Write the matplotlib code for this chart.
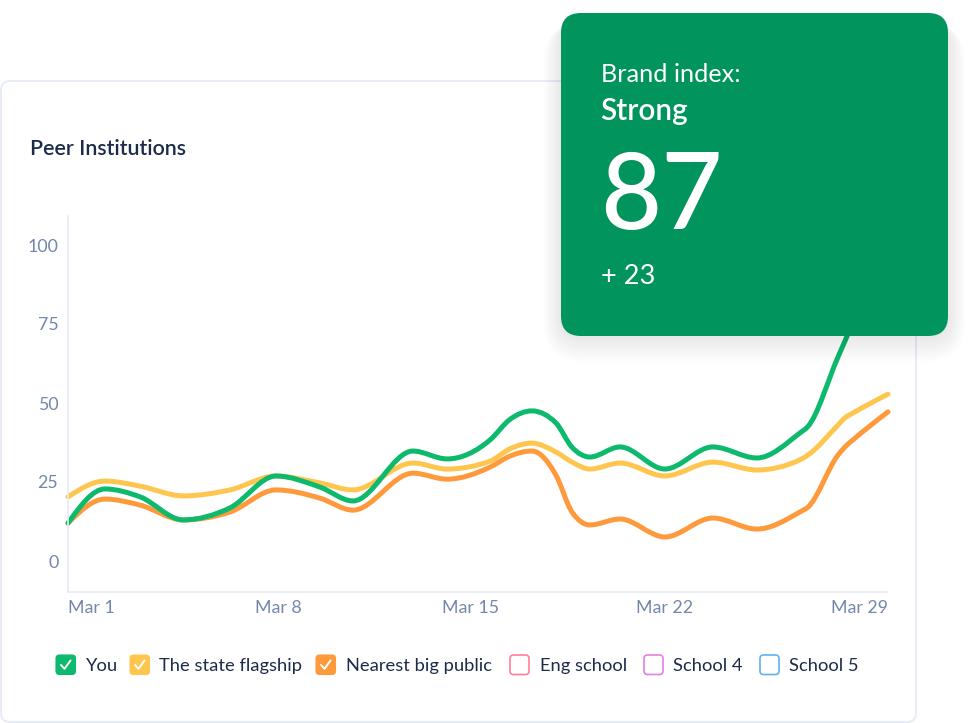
import numpy as np
from matplotlib import pyplot as plt
from matplotlib.patches import FancyBboxPatch, PathPatch
from matplotlib.path import Path

plt.rcParams['font.family'] = ['Lato', 'DejaVu Sans']

W, H = 968, 723

# data, x is in days since Mar 1
days = [0, 1.26, 2.46, 3.93, 5.53, 7.1, 8.6, 9.73, 11.78, 12.94, 14.41, 15.09,
        15.84, 16.66, 17.21, 17.82, 18.85, 20.38, 22.02, 23.52, 24.99, 25.26,
        26.29, 26.53, 26.8, 28]
you = [12, 22.8, 20.3, 13, 16.8, 26.9, 23.4, 19, 34.8, 32.3, 38.3, 44.8,
       47.5, 43.7, 36, 32.9, 36.1, 29.1, 36.1, 32.6, 40.5, 42.5,
       64.5, 69.6, 75.3, 87]
flagship = [20.3, 25.3, 23.7, 20.6, 22.5, 26.9, 24.7, 22.5, 31, 29.1, 31.6, 35.5,
            37.3, 34.5, 31.3, 29.1, 31, 26.9, 31.3, 28.8, 32, 33.5,
            43, 45.3, 46.8, 52.8]
nearest = [12, 19.6, 17.7, 13, 15.5, 22.5, 19.9, 16.1, 27.8, 25.9, 29.7, 33.2,
           34.8, 27.2, 15.5, 11.4, 13.3, 7.6, 13.6, 10.1, 15.5, 17,
           33.5, 36.1, 38.3, 47.2]

y_ticks = [0, 25, 50, 75, 100]
x_tick_days = [0, 7.17, 13.73, 20.38, 28]
x_tick_labels = ['Mar 1', 'Mar 8', 'Mar 15', 'Mar 22', 'Mar 29']
x_tick_align = ['left', 'center', 'center', 'center', 'right']

legend_names = ['You', 'The state flagship', 'Nearest big public',
                'Eng school', 'School 4', 'School 5']
legend_colors = ['#0DB96C', '#FFC64F', '#FF9A3C', '#FF7F96', '#E67FE3', '#5FB2F2']
legend_checked = [True, True, True, False, False, False]
legend_box_x = [56, 130, 316, 510, 644, 760]
legend_text_x = [86, 159, 346, 540, 673, 789]

GREEN = '#01945D'
DARK = '#1C2B4A'
GREY = '#7486A9'
BORDER = '#E6EBF8'


def monotone_path(x, y):
    # smooth curve through the points, flat at local extrema (like d3 monotoneX)
    x = np.asarray(x, float)
    y = np.asarray(y, float)
    h = np.diff(x)
    s = np.diff(y) / h
    t = np.zeros_like(y)
    for i in range(1, len(y) - 1):
        if s[i - 1] * s[i] > 0:
            p = (s[i - 1] * h[i] + s[i] * h[i - 1]) / (h[i - 1] + h[i])
            t[i] = np.sign(s[i]) * min(abs(s[i - 1]), abs(s[i]), 0.5 * abs(p)) * 2
    t[0] = (3 * s[0] - t[1]) / 2
    t[-1] = (3 * s[-1] - t[-2]) / 2
    verts = [(x[0], y[0])]
    codes = [Path.MOVETO]
    for i in range(len(h)):
        verts += [(x[i] + h[i] / 3, y[i] + t[i] * h[i] / 3),
                  (x[i + 1] - h[i] / 3, y[i + 1] - t[i + 1] * h[i] / 3),
                  (x[i + 1], y[i + 1])]
        codes += [Path.CURVE4] * 3
    return Path(verts, codes)


def round_box(ax, x0, y0, x1, y1, r, **kw):
    box = FancyBboxPatch((x0 + r, y0 + r), x1 - x0 - 2 * r, y1 - y0 - 2 * r,
                         boxstyle='round,pad=%f,rounding_size=%f' % (r, r), **kw)
    ax.add_patch(box)


fig = plt.figure(figsize=(W / 100, H / 100), dpi=100, facecolor='white')

# background layer in pixels: panel, title, legend
bg = fig.add_axes([0, 0, 1, 1], zorder=0)
bg.set_xlim(0, W)
bg.set_ylim(H, 0)
bg.axis('off')
round_box(bg, 1, 81, 916, 722, 9, facecolor='white', edgecolor=BORDER, linewidth=1.3)
bg.text(30, 149, 'Peer Institutions', fontsize=15.4, fontweight='semibold', color=DARK,
        ha='left', va='center')

for name, col, on, bx, tx in zip(legend_names, legend_colors, legend_checked,
                                 legend_box_x, legend_text_x):
    if on:
        round_box(bg, bx, 655, bx + 19.5, 674.5, 3.5, facecolor=col, edgecolor=col, linewidth=0.8)
        bg.plot([bx + 5, bx + 8.5, bx + 14.5], [665, 668.8, 660.5], color='white', lw=1.4,
                solid_capstyle='round', solid_joinstyle='round')
    else:
        round_box(bg, bx, 655, bx + 19, 674.5, 3.5, facecolor='white', edgecolor=col, linewidth=1.2)
    bg.text(tx, 666, name, fontsize=13.2, color=DARK, ha='left', va='center')

# chart
ax = fig.add_axes([68 / W, 1 - 592 / H, 820 / W, 376 / H], zorder=1)
ax.patch.set_alpha(0)
ax.set_xlim(0, 28)
ax.set_ylim((561 - 592) / 3.16, (561 - 216) / 3.16)
for side in ['top', 'right']:
    ax.spines[side].set_visible(False)
for side in ['left', 'bottom']:
    ax.spines[side].set_color(BORDER)
    ax.spines[side].set_linewidth(1.2)
ax.set_yticks(y_ticks)
ax.set_xticks(x_tick_days)
ax.set_xticklabels(x_tick_labels)
for lab, al in zip(ax.get_xticklabels(), x_tick_align):
    lab.set_ha(al)
ax.tick_params(axis='both', length=0, labelsize=12.8, labelcolor=GREY)
ax.tick_params(axis='x', pad=6)
ax.tick_params(axis='y', pad=7)

for series, col in [(flagship, legend_colors[1]), (nearest, legend_colors[2]), (you, legend_colors[0])]:
    ax.add_patch(PathPatch(monotone_path(days, series), fill=False, edgecolor=col,
                           linewidth=3.6, capstyle='round', joinstyle='round', clip_on=False))

# tooltip card on top
top = fig.add_axes([0, 0, 1, 1], zorder=2)
top.patch.set_alpha(0)
top.set_xlim(0, W)
top.set_ylim(H, 0)
top.axis('off')
for grow in range(22, 0, -2):
    round_box(top, 561 - grow * 0.8, 22, 948 + grow * 0.8, 336 + grow * 1.2, 20 + grow,
              facecolor='black', edgecolor='none', alpha=0.0065)
round_box(top, 561, 13, 948, 336, 20, facecolor=GREEN, edgecolor='none')
top.text(601, 74, 'Brand index:', fontsize=18.2, color='white', ha='left', va='center')
top.text(600, 111, 'Strong', fontsize=21.4, fontweight='semibold', color='white', ha='left', va='center')
top.text(600, 199, '87', fontsize=76, fontweight='medium', color='white', ha='left', va='center')
top.text(601, 277, '+ 23', fontsize=19.5, color='white', ha='left', va='center')

fig.savefig('out.png', dpi=100)
